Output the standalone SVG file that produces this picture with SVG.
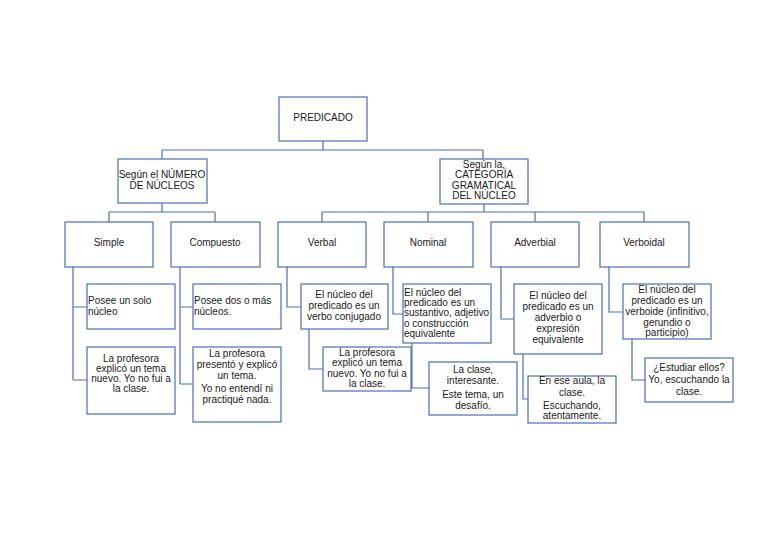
<svg xmlns="http://www.w3.org/2000/svg" width="768" height="543" viewBox="0 0 768 543">
<style>
.b{fill:#fff;stroke:#4a6fb5;stroke-width:1.2}
.c{fill:none;stroke:#4a6fb5;stroke-width:1.2}
text{font-family:"Liberation Sans",Arial,sans-serif;font-size:10px;fill:#1a1a1a}
.m{text-anchor:middle}
</style>
<rect width="768" height="543" fill="#fff"/>
<g id="connectors">
<path class="c" d="M323,141V150M162,150H483M162,150V159M483,150V159"/>
<path class="c" d="M162,203V212M109,212H215M109,212V222M215,212V222"/>
<path class="c" d="M484,204V212M322,212H644M322,212V222M428,212V222M535,212V222M644,212V222"/>
<path class="c" d="M73,267V380M73,307H87M73,380H87"/>
<path class="c" d="M180,267V384M180,307H193M180,384H193"/>
<path class="c" d="M287,267V307H301M309,329V369H323"/>
<path class="c" d="M393,267V314H403M412,343V388H429"/>
<path class="c" d="M501,267V319H514M523,354V399H528"/>
<path class="c" d="M609,267V312H623M632,339V380H645"/>
</g>
<g id="predicado"><rect class="b" x="279" y="97" width="88" height="44"/><text class="m" x="323" y="121">PREDICADO</text></g>
<g id="numero"><rect class="b" x="118" y="159" width="89" height="44"/><text class="m" x="162" y="178">Según el NÚMERO</text><text class="m" x="162" y="189">DE NÚCLEOS</text></g>
<g id="categoria"><rect class="b" x="440" y="159" width="88" height="45"/><text class="m" x="484" y="167.5">Según la,</text><text class="m" x="484" y="178">CATEGORÍA</text><text class="m" x="484" y="188.5">GRAMATICAL</text><text class="m" x="484" y="199">DEL NÚCLEO</text></g>
<g id="simple"><rect class="b" x="65" y="222" width="88" height="45"/><text class="m" x="109" y="246">Simple</text></g>
<g id="compuesto"><rect class="b" x="171" y="222" width="89" height="45"/><text class="m" x="215" y="246">Compuesto</text></g>
<g id="verbal"><rect class="b" x="278" y="222" width="88" height="45"/><text class="m" x="322" y="246">Verbal</text></g>
<g id="nominal"><rect class="b" x="384" y="222" width="89" height="45"/><text class="m" x="428" y="246">Nominal</text></g>
<g id="adverbial"><rect class="b" x="491" y="222" width="88" height="45"/><text class="m" x="535" y="246">Adverbial</text></g>
<g id="verboidal"><rect class="b" x="600" y="222" width="89" height="45"/><text class="m" x="644" y="246">Verboidal</text></g>
<g id="simple-def"><rect class="b" x="87" y="284" width="88" height="45"/><text x="88" y="303.5">Posee un solo</text><text x="88" y="314.5">núcleo</text></g>
<g id="simple-ej"><rect class="b" x="87" y="347" width="88" height="67"/><text class="m" x="131" y="361.5">La profesora</text><text class="m" x="131" y="371.5">explicó un tema</text><text class="m" x="131" y="381.5">nuevo. Yo no fui a</text><text class="m" x="131" y="391.5">la clase.</text></g>
<g id="compuesto-def"><rect class="b" x="193" y="284" width="88" height="45"/><text x="194" y="303.5">Posee dos o más</text><text x="194" y="314.5">núcleos.</text></g>
<g id="compuesto-ej"><rect class="b" x="193" y="347" width="88" height="75"/><text class="m" x="237" y="356.5">La profesora</text><text class="m" x="237" y="367.5">presentó y explicó</text><text class="m" x="237" y="378.5">un tema.</text><text class="m" x="237" y="391.5">Yo no entendí ni</text><text class="m" x="237" y="402.5">practiqué nada.</text></g>
<g id="verbal-def"><rect class="b" x="301" y="284" width="87" height="45"/><text class="m" x="344" y="297.5">El núcleo del</text><text class="m" x="344" y="308.5">predicado es un</text><text class="m" x="344" y="319.5">verbo conjugado</text></g>
<g id="verbal-ej"><rect class="b" x="323" y="347" width="88" height="44"/><text class="m" x="367" y="355.5">La profesora</text><text class="m" x="367" y="365.5">explicó un tema</text><text class="m" x="367" y="376.5">nuevo. Yo no fui a</text><text class="m" x="367" y="387">la clase.</text></g>
<g id="nominal-def"><rect class="b" x="403" y="284" width="88" height="59"/><text x="404" y="295.5">El núcleo del</text><text x="404" y="305.5">predicado es un</text><text x="404" y="316">sustantivo, adjetivo</text><text x="404" y="326.5">o construcción</text><text x="404" y="337">equivalente</text></g>
<g id="nominal-ej"><rect class="b" x="429" y="362" width="88" height="53"/><text class="m" x="473" y="372.5">La clase,</text><text class="m" x="473" y="383.5">interesante.</text><text class="m" x="473" y="397.5">Este tema, un</text><text class="m" x="473" y="408.5">desafío.</text></g>
<g id="adverbial-def"><rect class="b" x="514" y="284" width="88" height="70"/><text class="m" x="558" y="298.5">El núcleo del</text><text class="m" x="558" y="309.5">predicado es un</text><text class="m" x="558" y="321">adverbio o</text><text class="m" x="558" y="332">expresión</text><text class="m" x="558" y="342.5">equivalente</text></g>
<g id="adverbial-ej"><rect class="b" x="528" y="376" width="88" height="47"/><text class="m" x="572" y="383.5">En ese aula, la</text><text class="m" x="572" y="395.5">clase.</text><text class="m" x="572" y="408.5">Escuchando,</text><text class="m" x="572" y="418.5">atentamente.</text></g>
<g id="verboidal-def"><rect class="b" x="623" y="284" width="88" height="55"/><text class="m" x="667" y="292.5">El núcleo del</text><text class="m" x="667" y="303.5">predicado es un</text><text class="m" x="667" y="314.5">verboide (infinitivo,</text><text class="m" x="667" y="325.5">gerundio o</text><text class="m" x="667" y="335.5">participio)</text></g>
<g id="verboidal-ej"><rect class="b" x="645" y="358" width="88" height="44"/><text class="m" x="689" y="370.5">¿Estudiar ellos?</text><text class="m" x="689" y="382.5">Yo, escuchando la</text><text class="m" x="689" y="394.5">clase.</text></g>
</svg>
